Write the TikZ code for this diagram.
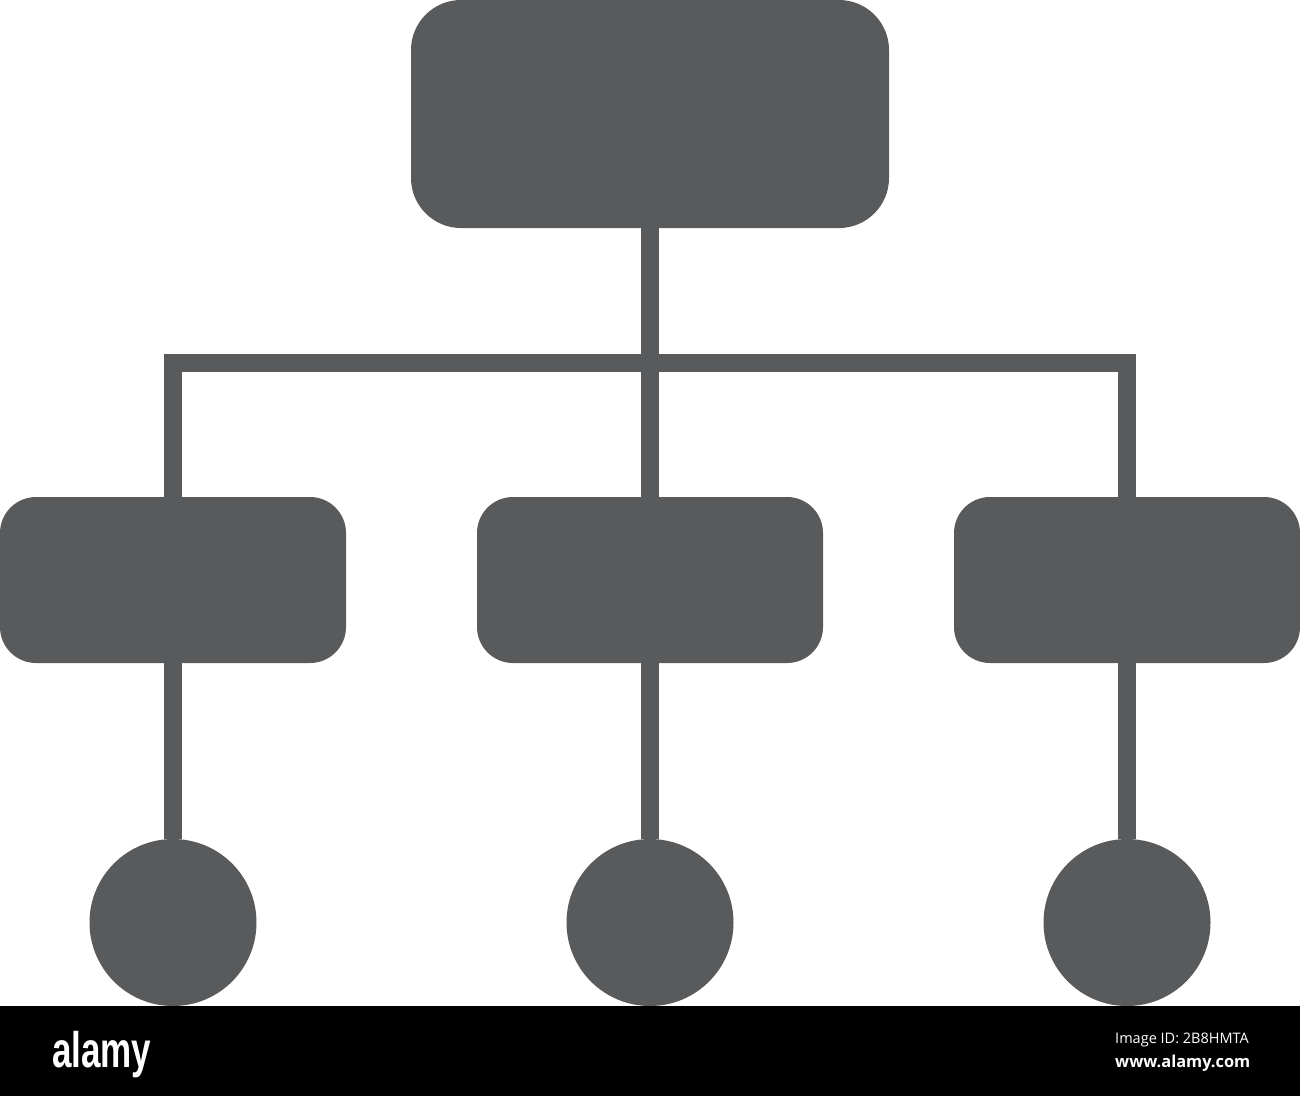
\documentclass[tikz,border=0pt]{standalone}
\usepackage{fontspec}
\setmainfont{Liberation Sans}
\newfontfamily\idfont{Open Sans}
\definecolor{iconGrey}{RGB}{89,90,92}
\begin{document}
\begin{tikzpicture}[x=1pt,y=-1pt,
  box/.style={rectangle,fill=iconGrey,draw=none,inner sep=0pt},
  topbox/.style={box,minimum width=478pt,minimum height=228pt,rounded corners=50pt},
  childbox/.style={box,minimum width=346pt,minimum height=166pt,rounded corners=36pt},
  leaf/.style={circle,fill=iconGrey,draw=none,inner sep=0pt,minimum size=167pt},
  link/.style={draw=iconGrey,line width=18pt},
  bus/.style={link,line join=miter},
  wmtext/.style={text=white,inner sep=0pt,anchor=base west}]
\useasboundingbox (0,0) rectangle (1300,1096);
% nodes
\node[topbox] (top) at (650,114) {};
\node[childbox] (c1) at (173,580) {};
\node[childbox] (c2) at (650,580) {};
\node[childbox] (c3) at (1127,580) {};
\node[leaf] (l1) at (173,922.5) {};
\node[leaf] (l2) at (650,922.5) {};
\node[leaf] (l3) at (1127,922.5) {};
% connectors
\coordinate (busL) at (173,362.5);
\coordinate (busR) at (1127,362.5);
\draw[bus] (c1.north) -- (busL) -- (busR) -- (c3.north);
\draw[link] (top.south) -- (c2.north);
\draw[link] (c1.south) -- (l1.north);
\draw[link] (c2.south) -- (l2.north);
\draw[link] (c3.south) -- (l3.north);
% bottom bar
\fill[black] (0,1006) rectangle (1300,1096);
\node[wmtext] (brand) at (52,1067) {\scalebox{0.7}[1]{\fontsize{50}{50}\selectfont\bfseries alamy}};
\node[wmtext] (imgid) at (1115,1043) {\idfont\fontsize{14.5}{15}\selectfont Image ID: 2B8HMTA};
\node[wmtext] (www) at (1115,1067) {\idfont\fontsize{16.4}{17}\selectfont\bfseries www.alamy.com};
\end{tikzpicture}
\end{document}
